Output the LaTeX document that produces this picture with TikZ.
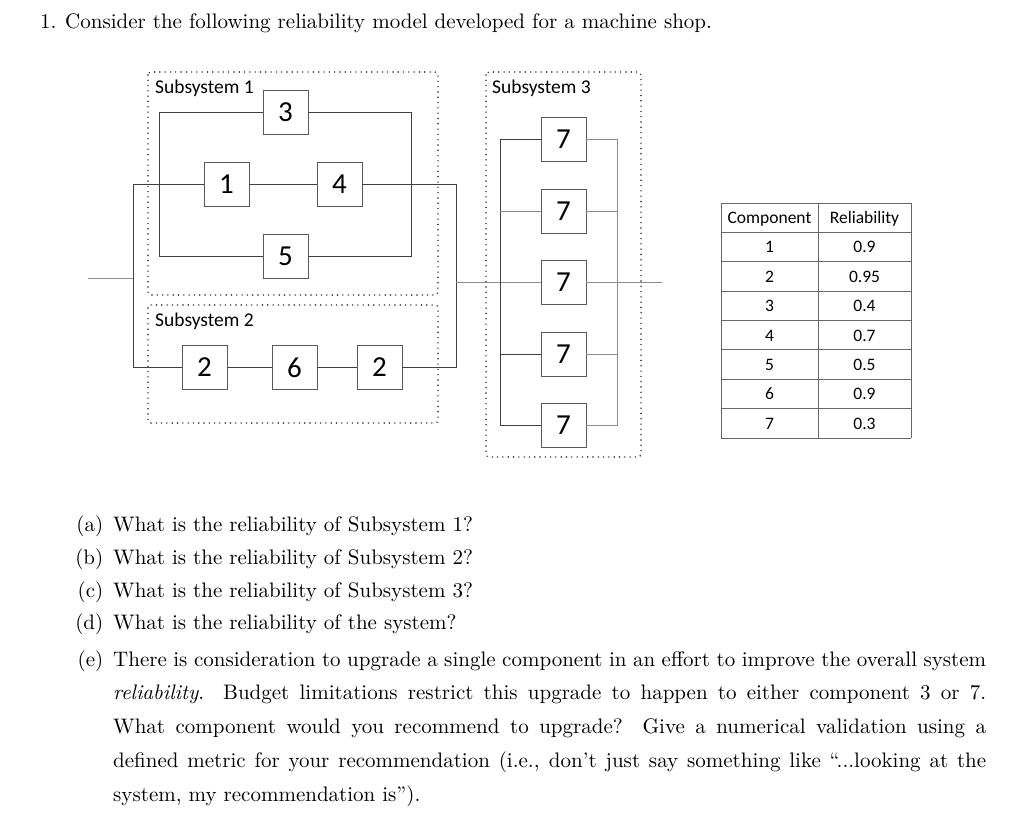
\documentclass[tikz,border=0pt]{standalone}
\usepackage{fontspec}
\setmainfont{lmroman10-regular.otf}[ItalicFont=lmroman10-italic.otf, BoldFont=lmroman10-bold.otf]
\newfontfamily\carl{Carlito}
\begin{document}
\begin{tikzpicture}[x=1pt,y=-1pt,
  comp/.style={draw=black!65, line width=0.9pt, fill=white, minimum width=45pt, minimum height=44pt, inner sep=0pt, font=\carl\fontsize{29}{29}\selectfont},
  wire/.style={draw=black!75, line width=1pt},
  wirel/.style={draw=black!45, line width=1pt},
  dotbox/.style={draw=black!85, line width=1.6pt, dash pattern=on 0pt off 5.3pt, line cap=round, rounded corners=3pt},
  sublabel/.style={font=\carl\fontsize{19.5}{19.5}\selectfont, anchor=base west, inner sep=0pt},
  cell/.style={font=\carl\fontsize{17.5}{17.5}\selectfont, anchor=base, inner sep=0pt},
  tline/.style={draw=black!60, line width=1pt},
  q/.style={anchor=base west, inner sep=0pt, font=\fontsize{21}{25}\selectfont},
  ql/.style={anchor=base east, inner sep=0pt, font=\fontsize{21}{25}\selectfont}]
\useasboundingbox (0,0) rectangle (1024,819);

% dotted subsystem frames
\draw[dotbox] (148,72) rectangle (438,295);
\draw[dotbox] (148,305) rectangle (438,423);
\draw[dotbox] (486,72) rectangle (641,457);
\node[sublabel] (s1) at (155,93) {Subsystem 1};
\node[sublabel] (s2) at (155,326) {Subsystem 2};
\node[sublabel] (s3) at (492,93) {Subsystem 3};

% components
\node[comp] (c3) at (285.5,112) {3};
\node[comp] (c1) at (226.5,184) {1};
\node[comp] (c4) at (339.5,184) {4};
\node[comp] (c5) at (285.5,256) {5};
\node[comp] (c2a) at (204.5,367.5) {2};
\node[comp] (c6) at (294.5,367.5) {6};
\node[comp] (c2b) at (379.5,367.5) {2};
\node[comp] (c7a) at (563.5,139.5) {7};
\node[comp] (c7b) at (563.5,211) {7};
\node[comp] (c7c) at (563.5,282.5) {7};
\node[comp] (c7d) at (563.5,354) {7};
\node[comp] (c7e) at (563.5,425.5) {7};

% junction coordinates
\coordinate (iL) at (159,184);
\coordinate (iR) at (411,184);
\coordinate (oL) at (133,184);
\coordinate (oR) at (456,184);
\coordinate (oL2) at (133,367.5);
\coordinate (oR2) at (456,367.5);
\coordinate (inp) at (88,278);
\coordinate (inJ) at (133,278);
\coordinate (outJ) at (456,282.5);
\coordinate (bLt) at (500,139.5);
\coordinate (bLb) at (500,425.5);
\coordinate (bRt) at (617,139.5);
\coordinate (bRb) at (617,425.5);
\coordinate (outp) at (662,282.5);

% subsystem 1 wiring
\draw[wire] (c3.west) -| (iL);
\draw[wire] (c5.west) -| (iL);
\draw[wire] (c3.east) -| (iR);
\draw[wire] (c5.east) -| (iR);
\draw[wire] (oL) -- (c1.west);
\draw[wire] (c1.east) -- (c4.west);
\draw[wire] (c4.east) -- (oR);
% subsystem 2 wiring and outer parallel
\draw[wire] (oL) -- (oL2) -- (c2a.west);
\draw[wire] (c2a.east) -- (c6.west);
\draw[wire] (c6.east) -- (c2b.west);
\draw[wire] (c2b.east) -- (oR2) -- (oR);
\draw[wirel] (inp) -- (inJ);
\draw[wirel] (outJ) -- (c7c.west);
% subsystem 3 wiring
\draw[wire] (c7a.west) -- (bLt) -- (bLb) -- (c7e.west);
\draw[wirel] (c7b.west) -- (c7b.west -| bLt);
\draw[wire] (c7d.west) -- (c7d.west -| bLt);
\draw[wirel] (c7a.east) -- (bRt) -- (bRb) -- (c7e.east);
\draw[wirel] (c7b.east) -- (c7b.east -| bRt);
\draw[wirel] (c7c.east) -- (c7c.east -| bRt);
\draw[wirel] (c7d.east) -- (c7d.east -| bRt);
\draw[wirel] (c7c.east -| bRt) -- (outp);

% table
\foreach \k in {0,...,8} {
  \draw[tline] (721,{203+29.375*\k}) -- (911,{203+29.375*\k});
}
\draw[tline] (721,203) -- (721,438);
\draw[tline] (818,203) -- (818,438);
\draw[tline] (911,203) -- (911,438);
\node[cell] (th1) at (769.5,223.3) {Component};
\node[cell] (th2) at (864.5,223.3) {Reliability};
\foreach \c/\r [count=\k] in {1/0.9, 2/0.95, 3/0.4, 4/0.7, 5/0.5, 6/0.9, 7/0.3} {
  \node[cell] (tc\k) at (769.5,{203+29.375*\k+20.5}) {\c};
  \node[cell] (tr\k) at (864.5,{203+29.375*\k+20.5}) {\r};
}

% text
\node[q] (t0) at (40,28.5) {1.};
\node[q] (t1) at (65,28.5) {Consider the following reliability model developed for a machine shop.};
\node[ql] (la) at (103.5,531) {(a)};
\node[q] (qa) at (113,531) {What is the reliability of Subsystem 1?};
\node[ql] (lb) at (103.5,564) {(b)};
\node[q] (qb) at (113,564) {What is the reliability of Subsystem 2?};
\node[ql] (lc) at (103.5,597) {(c)};
\node[q] (qc) at (113,597) {What is the reliability of Subsystem 3?};
\node[ql] (ld) at (103.5,629) {(d)};
\node[q] (qd) at (113,629) {What is the reliability of the system?};
\node[ql] (le) at (103.5,666) {(e)};
\node[q] (qe1) at (113,666) {\makebox[873pt][s]{There is consideration to upgrade a single component in an effort to improve the overall system}};
\node[q] (qe2) at (113,699.5) {\makebox[873pt][s]{\textit{reliability}. Budget limitations restrict this upgrade to happen to either component 3 or 7.}};
\node[q] (qe3) at (113,733.5) {\makebox[873pt][s]{What component would you recommend to upgrade? Give a numerical validation using a}};
\node[q] (qe4) at (113,767.5) {\makebox[873pt][s]{defined metric for your recommendation (i.e., don't just say something like ``...looking at the}};
\node[q] (qe5) at (113,801.5) {system, my recommendation is'').};
\end{tikzpicture}
\end{document}
